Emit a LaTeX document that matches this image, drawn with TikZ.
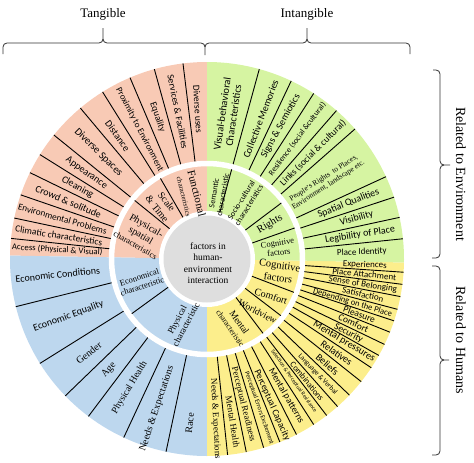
\documentclass[tikz,border=0pt]{standalone}
\usepackage{fontspec}
\setmainfont{Liberation Serif}
\newfontfamily\carlito{Carlito}
\definecolor{pinkc}{HTML}{F8CAB5}
\definecolor{greenc}{HTML}{D6F4A2}
\definecolor{bluec}{HTML}{BDD7EE}
\definecolor{yellowc}{HTML}{FCEE8C}
\definecolor{grayc}{HTML}{DEDEDE}
\newcommand\wl[6]{\node[#5,rotate=#4] (#1) at (#2:#3pt) {#6};}
\begin{document}
\begin{tikzpicture}[x=1pt,y=1pt,
  div/.style={black,line width=0.9pt},
  sfl/.style={font=\carlito\fontsize{#1}{#1}\selectfont,align=center,inner sep=0pt},
  rml/.style={font=\fontsize{#1}{#1}\selectfont,align=center,inner sep=0pt},
  brc/.style={draw=black!80,line width=0.8pt}]
\useasboundingbox (0,0) rectangle (474,-463);
% ---- braces ----
\draw[brc] (3,-54) -- (3,-47) to[out=90,in=180] (7,-43) -- (99,-43) to[out=0,in=-90] (103,-39) -- (103,-28);
\draw[brc] (103,-39) to[out=-90,in=180] (107,-43) -- (201,-43) to[out=0,in=90] (205,-47) -- (205,-55);
\draw[brc] (205,-47) to[out=90,in=180] (209,-43) -- (303,-43) to[out=0,in=-90] (307,-39) -- (307,-28);
\draw[brc] (307,-39) to[out=-90,in=180] (311,-43) -- (406,-43) to[out=0,in=90] (410,-47) -- (410,-54);
\node[rml=13] (tang) at (103,-14) {Tangible};
\node[rml=13] (intang) at (307,-14) {Intangible};
\draw[brc] (433,-70) -- (436,-70) to[out=0,in=90] (440,-74) -- (440,-161) to[out=-90,in=180] (444,-165) -- (450,-165);
\draw[brc] (444,-165) to[out=180,in=90] (440,-169) -- (440,-254) to[out=-90,in=0] (436,-258) -- (432,-258);
\draw[brc] (432,-266) -- (436,-266) to[out=0,in=90] (440,-270) -- (440,-356) to[out=-90,in=180] (444,-360) -- (449,-360);
\draw[brc] (444,-360) to[out=180,in=90] (440,-364) -- (440,-451) to[out=-90,in=0] (436,-455) -- (432,-455);
\node[rml=14,rotate=-90] (env) at (461,-174) {Related to Environment};
\node[rml=14,rotate=-90] (hum) at (461,-340) {Related to Humans};
% ---- wheel ----
\begin{scope}[shift={(207,-259)}]
\fill[pinkc] (0,0) -- (90:197pt) arc[start angle=90,end angle=179,radius=197pt] -- cycle;
\fill[bluec] (0,0) -- (179:197pt) arc[start angle=179,end angle=270,radius=197pt] -- cycle;
\fill[yellowc] (0,0) -- (270:197pt) arc[start angle=270,end angle=359,radius=197pt] -- cycle;
\fill[greenc] (0,0) -- (-1:197pt) arc[start angle=-1,end angle=90,radius=197pt] -- cycle;
\foreach \a in {97,105.5,113,122,130,141,148,154,161,168,174,
  74.6,64.7,57.2,48.9,41.3,24.7,18.3,12.2,5.9,
  194,212,224,233,245,258,
  -3.85,-7.4,-11,-14.8,-18.3,-21.8,-25.7,-29.3,-33.5,-38.5,-43.7,-48.5,-52.6,-57.2,-63,-68.3,-73.3,-78.5,-84}
  \draw[div] (\a:96pt) -- (\a:197pt);
\draw[white,line width=5.5pt] (0,0) circle[radius=95.5pt];
\foreach \a in {120,141,74.6,37,19.5,-21,-37.5,-53,216}
  \draw[div] (\a:46pt) -- (\a:93pt);
\fill[white] (0,0) circle[radius=48pt];
\fill[grayc] (0,0) circle[radius=43.5pt];
% pink outer
\wl{pa}{93.5}{150}{-86.5}{sfl=9.5}{Diverse uses}
\wl{pb}{101.2}{150}{-78.8}{sfl=9.5}{Services \& Facilities}
\wl{pc}{109.2}{150}{-70.8}{sfl=9.5}{Equality}
\wl{pd}{117.5}{146}{-62.5}{sfl=9}{Proximity to Environment}
\wl{pe}{126}{152}{-54}{sfl=10}{Distance}
\wl{pf}{135.5}{152}{-44.5}{sfl=10.5}{Diverse Spaces}
\wl{pg}{144.5}{148}{-35.5}{sfl=10}{Appearance}
\wl{ph}{151}{148}{-29}{sfl=10}{Cleaning}
\wl{pi}{157.5}{150}{-22.5}{sfl=10}{Crowd \& solitude}
\wl{pj}{164.5}{150}{-15.5}{sfl=9.2}{Environmental Problems}
\wl{pk}{171}{150}{-9}{sfl=9.5}{Climatic characteristics}
\wl{pl}{176.5}{150}{-3.5}{sfl=8.8}{Access (Physical \& Visual)}
% green outer
\wl{ga}{81.8}{146}{81.8}{sfl=10.5}{Visual-behavioral\\[1pt]Characteristics}
\wl{gb}{69}{150}{69}{sfl=10}{Collective Memories}
\wl{gc}{61}{152}{61}{sfl=10}{Signs \& Semiotics}
\wl{gd}{53}{150}{53}{sfl=8}{Resilience (social \&cultural)}
\wl{ge}{45}{150}{45}{sfl=9.5}{Links (social \& cultural)}
\wl{gf}{33}{142}{33}{rml=7.5}{People's Rights~ to Places,\\[1pt]Environment, landscape etc.}
\wl{gg}{21.5}{152}{21.5}{sfl=10}{Spatial Qualities}
\wl{gh}{15.2}{155}{15.2}{sfl=10}{Visibility}
\wl{gi}{9}{155}{9}{sfl=10}{Legibility of Place}
\wl{gj}{2.5}{155}{2.5}{sfl=9}{Place Identity}
% blue outer
\wl{ba}{186}{150}{6}{sfl=10}{Economic Conditions}
\wl{bb}{202.5}{150}{20}{sfl=10}{Economic Equality}
\wl{bc}{218.5}{151}{38.5}{rml=10}{Gender}
\wl{bd}{228.5}{148}{48.5}{rml=10}{Age}
\wl{be}{239}{150}{59}{rml=9.5}{Physical Health}
\wl{bf}{251.5}{158}{71.5}{rml=10}{Needs \& Expectations}
\wl{bg}{264}{165}{84}{rml=10}{Race}
% yellow outer
\wl{ya}{-2.2}{158}{-2.2}{sfl=9}{Experiences}
\wl{yb}{-5.5}{158}{-5.5}{sfl=9}{Place Attachment}
\wl{yc}{-9.3}{158}{-9.3}{sfl=9}{Sense of Belonging}
\wl{yd}{-12.8}{160}{-12.8}{sfl=9}{Satisfaction}
\wl{ye}{-16.8}{152}{-16.8}{sfl=8.5}{Depending on the Place}
\wl{yf}{-19.9}{162}{-19.9}{sfl=9.5}{Pleasure}
\wl{yg}{-23.7}{160}{-23.7}{sfl=9.5}{Comfort}
\wl{yh}{-27.7}{160}{-27.7}{sfl=9.5}{Security}
\wl{yi}{-31}{160}{-31}{sfl=10}{Mental pressures}
\wl{yj}{-35.9}{160}{-35.9}{sfl=10}{Relatives}
\wl{yk}{-41.2}{160}{-41.2}{sfl=10}{Beliefs}
\wl{yl}{-46.2}{160}{-46.2}{sfl=7}{Language \& Verbal}
\wl{ym}{-50.7}{158}{-50.7}{sfl=8.5}{Combinations}
\wl{yn}{-54.6}{150}{-54.6}{sfl=5.5}{Selection \& Perceptual Resistance}
\wl{yo}{-59.9}{158}{-59.9}{sfl=9.5}{Mental patterns}
\wl{yp}{-66}{160}{-66}{sfl=9.5}{Perceptual Capacity}
\wl{yq}{-70.7}{158}{-70.7}{sfl=6.5}{Perceptual Errors Excitement}
\wl{yr}{-76}{150}{-76}{rml=9}{Perceptual Readiness}
\wl{ys}{-81}{165}{-81}{rml=9}{Mental Health}
\wl{yt}{-87}{160}{-87}{rml=9}{Needs \& Expectations}
% inner ring
\wl{ia}{104}{66}{-76}{rml=11}{Functional\\[1pt]{\fontsize{7}{7}\selectfont characteristics}}
\wl{ib}{130}{70}{-52}{rml=10}{Scale\\[2pt]\& Time}
\wl{ic}{160}{70}{-30}{rml=10}{Physical-\\[1pt]spatial\\[1pt]{\fontsize{8.5}{8.5}\selectfont characteristics}}
\wl{id}{80}{66}{80}{sfl=8}{Semantic\\[1pt]characteristic}
\wl{ie}{56}{68}{58}{sfl=8}{Socio-cultural\\[1pt]characteristics}
\wl{if}{29}{72}{30}{rml=10.5}{Rights}
\wl{ig}{9}{72}{8}{rml=8.5}{Cognitive\\[1pt]factors}
\wl{ih}{-10}{73}{-8}{rml=10.5}{Cognitive\\[2pt]factors}
\wl{ii}{-30}{74}{-18}{rml=10}{Comfort}
\wl{ij}{-46}{73}{-28}{rml=9.5}{Worldview}
\wl{ik}{-67}{72}{-55}{rml=9.5}{Mental\\[1pt]{\fontsize{8}{8}\selectfont characteristic}}
\wl{il}{199}{70}{18}{rml=8.5}{Economical\\[1pt]characteristic}
\wl{im}{248}{68}{62}{rml=9}{Physical\\[1pt]characteristic}
\end{scope}
\node[rml=9.5,align=center] (ctr) at (208,-263) {factors in\\[2pt]human-\\[2pt]environment\\[2pt]interaction};
\end{tikzpicture}
\end{document}
